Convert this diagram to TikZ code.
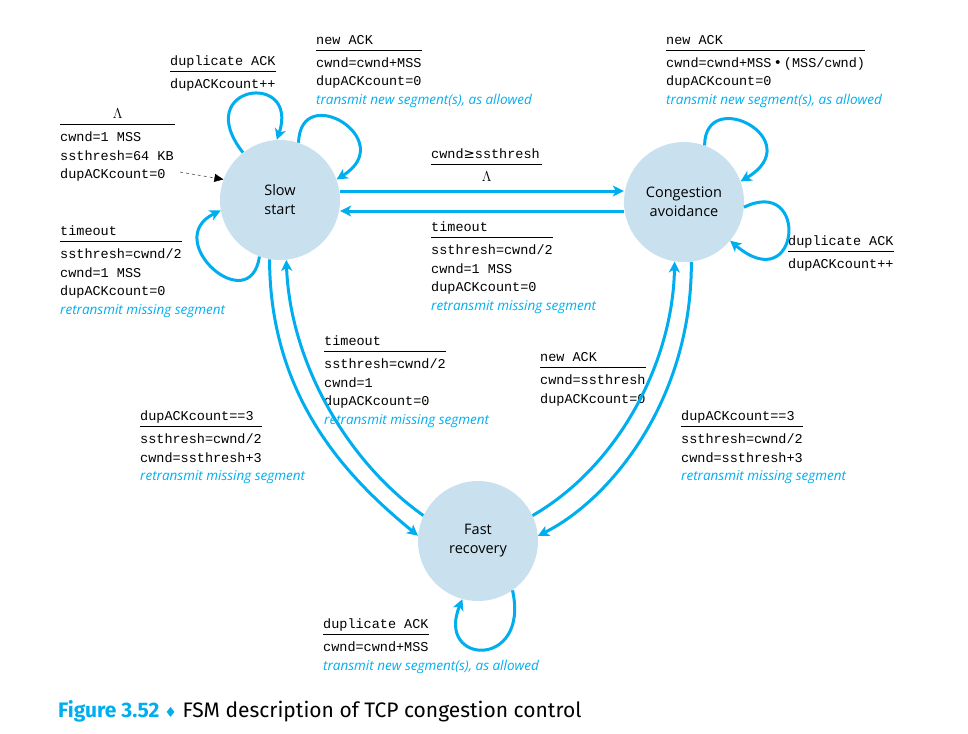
\documentclass[tikz,border=0pt]{standalone}
\usepackage{fontspec}
\setmainfont{Liberation Mono}
\setsansfont{Open Sans}
\newfontfamily\capfont{Fira Sans}
\newfontfamily\symfnt{DejaVu Sans}
\usetikzlibrary{arrows.meta}
\definecolor{tblue}{HTML}{00AEEF}
\definecolor{sfill}{HTML}{C9E1EF}
\newcommand\blu[1]{\rlap{\color{tblue}\sffamily\itshape\fontsize{13.5}{18}\selectfont #1}}
\newcommand\lbl[5]{\node[lbl] (#1) at (#2,#3-12.6) {\begin{tabular}{@{}l@{}}#4\\\hline\rule{0pt}{17pt}#5\end{tabular}};}
\begin{document}
\begin{tikzpicture}[x=1pt,y=-1pt,
  st/.style={circle,fill=sfill,minimum size=120pt,inner sep=0pt,align=center,font=\sffamily\fontsize{14.5}{19}\selectfont},
  lbl/.style={anchor=north west,inner sep=0pt,font=\fontsize{13.5}{18.5}\selectfont},
  arr/.style={draw=tblue,line width=3pt,-{Stealth[length=11pt,width=11pt,inset=3pt]}}]
\useasboundingbox (0,0) rectangle (968,733);
\node[st] (ss) at (280,200) {Slow\\start};
\node[st] (ca) at (684,202) {Congestion\\avoidance};
\node[st] (fr) at (478,541) {Fast\\recovery};
% labels
\lbl{l1}{170}{65}{duplicate ACK}{dupACKcount++}
\lbl{l2}{316}{44}{new ACK}{cwnd=cwnd+MSS\\dupACKcount=0\\\blu{transmit new segment(s), as allowed}}
\lbl{l3}{60}{118}{\makebox[115pt]{$\Lambda$}}{cwnd=1 MSS\\ssthresh=64 KB\\dupACKcount=0}
\lbl{l4}{60}{235}{timeout}{ssthresh=cwnd/2\\cwnd=1 MSS\\dupACKcount=0\\\blu{retransmit missing segment}}
\lbl{l5}{431}{158}{cwnd{\symfnt ≥}ssthresh}{\makebox[111pt]{$\Lambda$}}
\lbl{l6}{431}{231}{timeout}{ssthresh=cwnd/2\\cwnd=1 MSS\\dupACKcount=0\\\blu{retransmit missing segment}}
\lbl{l7}{666}{44}{new ACK}{cwnd=cwnd+MSS{\symfnt\,•\,}(MSS/cwnd)\\dupACKcount=0\\\blu{transmit new segment(s), as allowed}}
\lbl{l8}{788}{245}{duplicate ACK}{dupACKcount++}
\lbl{l9}{324}{345}{timeout}{ssthresh=cwnd/2\\cwnd=1\\dupACKcount=0\\\blu{retransmit missing segment}}
\lbl{l10}{540}{361}{new ACK}{cwnd=ssthresh\\dupACKcount=0}
\lbl{l11}{140}{420}{dupACKcount==3}{ssthresh=cwnd/2\\cwnd=ssthresh+3\\\blu{retransmit missing segment}}
\lbl{l12}{681}{420}{dupACKcount==3}{ssthresh=cwnd/2\\cwnd=ssthresh+3\\\blu{retransmit missing segment}}
\lbl{l13}{323}{628}{duplicate ACK}{cwnd=cwnd+MSS\\\blu{transmit new segment(s), as allowed}}
% initial
\coordinate (init) at (180,172);
\draw[dashed,-{Triangle[length=9pt,width=8pt]}] (init) -- (ss.160);
% straight
\draw[arr] ([yshift=9pt]ss.east) -- ([yshift=9pt]ca.west |- ss.east);
\draw[arr] ([yshift=-11pt]ca.west |- ss.east) -- ([yshift=-11pt]ss.east);
% SS loops
\draw[arr] (ss.128) .. controls (190,85) and (300,70) .. (ss.93);
\draw[arr] (ss.72) .. controls (300,80) and (400,140) .. (ss.20);
\draw[arr] (ss.250) .. controls (250,320) and (160,240) .. (ss.190);
% CA loops
\draw[arr] (ca.70) .. controls (705,85) and (810,140) .. (ca.20);
\draw[arr] (ca.-5) .. controls (810,175) and (800,300) .. (ca.-40);
% FR loop
\draw[arr] (fr.-55) .. controls (530,670) and (435,665) .. (fr.-105);
% long arcs
\draw[arr] (ss.260) .. controls (270,400) and (350,480) .. (fr.175);
\draw[arr] (fr.155) .. controls (345,460) and (290,360) .. (ss.276);
\draw[arr] (ca.277) .. controls (692,400) and (610,500) .. (fr.5);
\draw[arr] (fr.25) .. controls (620,465) and (673,360) .. (ca.261);
% caption
\node[anchor=base west,inner sep=0pt,font=\capfont\fontsize{21}{24}\selectfont] (cap) at (58,717)
 {{\color{tblue}\bfseries Figure 3.52 {\symfnt\fontsize{14}{14}\selectfont ♦}} FSM description of TCP congestion control};
\end{tikzpicture}
\end{document}
